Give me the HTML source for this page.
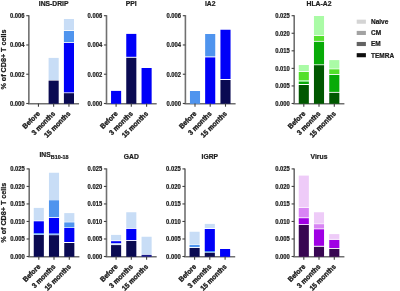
<!DOCTYPE html>
<html><head><meta charset="utf-8"><style>
html,body{margin:0;padding:0;background:#fff;}
body{width:400px;height:291px;overflow:hidden;}
svg{display:block;font-family:"Liberation Sans", sans-serif;will-change:transform;}
text{stroke:#1a1a1a;stroke-width:0.22px;paint-order:stroke;}
.xl{stroke-width:0.35px;}
</style></head><body>
<svg width="400" height="291" viewBox="0 0 400 291">
<rect width="400" height="291" fill="#fff"/>
<line x1="28.85" y1="15.2" x2="28.85" y2="104" stroke="#707070" stroke-width="1.6"/>
<line x1="27.95" y1="103.7" x2="79.05" y2="103.7" stroke="#707070" stroke-width="1.6"/>
<rect x="48.6" y="57.9" width="10.1" height="22.1" fill="#c8ddf6"/>
<rect x="48.6" y="80.6" width="10.1" height="23.2" fill="#0a0a52"/>
<rect x="63.9" y="19" width="10.1" height="11.2" fill="#c8ddf6"/>
<rect x="63.9" y="31" width="10.1" height="11.2" fill="#4f94ee"/>
<rect x="63.9" y="43" width="10.1" height="49.4" fill="#0000f8"/>
<rect x="63.9" y="93.2" width="10.1" height="10.6" fill="#0a0a52"/>
<line x1="26.25" y1="15.7" x2="28.85" y2="15.7" stroke="#404040" stroke-width="1.1"/>
<text font-size="6.8" font-weight="bold" text-anchor="end" fill="#1a1a1a" transform="translate(24.5 18.15) scale(0.86 1)">0.006</text>
<line x1="26.25" y1="44.97" x2="28.85" y2="44.97" stroke="#404040" stroke-width="1.1"/>
<text font-size="6.8" font-weight="bold" text-anchor="end" fill="#1a1a1a" transform="translate(24.5 47.42) scale(0.86 1)">0.004</text>
<line x1="26.25" y1="74.23" x2="28.85" y2="74.23" stroke="#404040" stroke-width="1.1"/>
<text font-size="6.8" font-weight="bold" text-anchor="end" fill="#1a1a1a" transform="translate(24.5 76.68) scale(0.86 1)">0.002</text>
<line x1="26.25" y1="103.5" x2="28.85" y2="103.5" stroke="#404040" stroke-width="1.1"/>
<text font-size="6.8" font-weight="bold" text-anchor="end" fill="#1a1a1a" transform="translate(24.5 105.95) scale(0.86 1)">0.000</text>
<line x1="38.45" y1="103.5" x2="38.45" y2="106.7" stroke="#404040" stroke-width="1.1"/>
<text class="xl" x="0" y="0" font-size="7.2" font-weight="bold" text-anchor="end" fill="#1a1a1a" transform="translate(40.45 114.2) rotate(-45) scale(0.94 1)">Before</text>
<line x1="53.65" y1="103.5" x2="53.65" y2="106.7" stroke="#404040" stroke-width="1.1"/>
<text class="xl" x="0" y="0" font-size="7.2" font-weight="bold" text-anchor="end" fill="#1a1a1a" transform="translate(55.65 114.2) rotate(-45) scale(0.94 1)">3 months</text>
<line x1="68.95" y1="103.5" x2="68.95" y2="106.7" stroke="#404040" stroke-width="1.1"/>
<text class="xl" x="0" y="0" font-size="7.2" font-weight="bold" text-anchor="end" fill="#1a1a1a" transform="translate(70.95 114.2) rotate(-45) scale(0.94 1)">15 months</text>
<text font-size="7.0" font-weight="bold" text-anchor="middle" fill="#1a1a1a" transform="translate(53.65 5.6) scale(0.97 1)">INS-DRIP</text>
<text font-size="6.3" font-weight="bold" text-anchor="middle" fill="#1a1a1a" transform="translate(5.6 59.6) rotate(-90) scale(1.14 1)">% of CD8+ T cells</text>
<line x1="106.5" y1="15.2" x2="106.5" y2="104" stroke="#707070" stroke-width="1.6"/>
<line x1="105.6" y1="103.7" x2="156.7" y2="103.7" stroke="#707070" stroke-width="1.6"/>
<rect x="111.05" y="90.9" width="10.1" height="12.9" fill="#0000f8"/>
<rect x="126.25" y="33.9" width="10.1" height="22.9" fill="#0000f8"/>
<rect x="126.25" y="57.8" width="10.1" height="46" fill="#0a0a52"/>
<rect x="141.55" y="68" width="10.1" height="35.8" fill="#0000f8"/>
<line x1="103.9" y1="15.7" x2="106.5" y2="15.7" stroke="#404040" stroke-width="1.1"/>
<text font-size="6.8" font-weight="bold" text-anchor="end" fill="#1a1a1a" transform="translate(102.15 18.15) scale(0.86 1)">0.006</text>
<line x1="103.9" y1="44.97" x2="106.5" y2="44.97" stroke="#404040" stroke-width="1.1"/>
<text font-size="6.8" font-weight="bold" text-anchor="end" fill="#1a1a1a" transform="translate(102.15 47.42) scale(0.86 1)">0.004</text>
<line x1="103.9" y1="74.23" x2="106.5" y2="74.23" stroke="#404040" stroke-width="1.1"/>
<text font-size="6.8" font-weight="bold" text-anchor="end" fill="#1a1a1a" transform="translate(102.15 76.68) scale(0.86 1)">0.002</text>
<line x1="103.9" y1="103.5" x2="106.5" y2="103.5" stroke="#404040" stroke-width="1.1"/>
<text font-size="6.8" font-weight="bold" text-anchor="end" fill="#1a1a1a" transform="translate(102.15 105.95) scale(0.86 1)">0.000</text>
<line x1="116.1" y1="103.5" x2="116.1" y2="106.7" stroke="#404040" stroke-width="1.1"/>
<text class="xl" x="0" y="0" font-size="7.2" font-weight="bold" text-anchor="end" fill="#1a1a1a" transform="translate(118.1 114.2) rotate(-45) scale(0.94 1)">Before</text>
<line x1="131.3" y1="103.5" x2="131.3" y2="106.7" stroke="#404040" stroke-width="1.1"/>
<text class="xl" x="0" y="0" font-size="7.2" font-weight="bold" text-anchor="end" fill="#1a1a1a" transform="translate(133.3 114.2) rotate(-45) scale(0.94 1)">3 months</text>
<line x1="146.6" y1="103.5" x2="146.6" y2="106.7" stroke="#404040" stroke-width="1.1"/>
<text class="xl" x="0" y="0" font-size="7.2" font-weight="bold" text-anchor="end" fill="#1a1a1a" transform="translate(148.6 114.2) rotate(-45) scale(0.94 1)">15 months</text>
<text font-size="7.0" font-weight="bold" text-anchor="middle" fill="#1a1a1a" transform="translate(131.3 5.6) scale(0.97 1)">PPI</text>
<line x1="185.4" y1="15.2" x2="185.4" y2="104" stroke="#707070" stroke-width="1.6"/>
<line x1="184.5" y1="103.7" x2="235.6" y2="103.7" stroke="#707070" stroke-width="1.6"/>
<rect x="189.95" y="91" width="10.1" height="12.8" fill="#4f94ee"/>
<rect x="205.15" y="34" width="10.1" height="22.4" fill="#4f94ee"/>
<rect x="205.15" y="57.4" width="10.1" height="46.4" fill="#0000f8"/>
<rect x="220.45" y="29.75" width="10.1" height="49.25" fill="#0000f8"/>
<rect x="220.45" y="80" width="10.1" height="23.8" fill="#0a0a52"/>
<line x1="182.8" y1="15.7" x2="185.4" y2="15.7" stroke="#404040" stroke-width="1.1"/>
<text font-size="6.8" font-weight="bold" text-anchor="end" fill="#1a1a1a" transform="translate(181.05 18.15) scale(0.86 1)">0.006</text>
<line x1="182.8" y1="44.97" x2="185.4" y2="44.97" stroke="#404040" stroke-width="1.1"/>
<text font-size="6.8" font-weight="bold" text-anchor="end" fill="#1a1a1a" transform="translate(181.05 47.42) scale(0.86 1)">0.004</text>
<line x1="182.8" y1="74.23" x2="185.4" y2="74.23" stroke="#404040" stroke-width="1.1"/>
<text font-size="6.8" font-weight="bold" text-anchor="end" fill="#1a1a1a" transform="translate(181.05 76.68) scale(0.86 1)">0.002</text>
<line x1="182.8" y1="103.5" x2="185.4" y2="103.5" stroke="#404040" stroke-width="1.1"/>
<text font-size="6.8" font-weight="bold" text-anchor="end" fill="#1a1a1a" transform="translate(181.05 105.95) scale(0.86 1)">0.000</text>
<line x1="195" y1="103.5" x2="195" y2="106.7" stroke="#404040" stroke-width="1.1"/>
<text class="xl" x="0" y="0" font-size="7.2" font-weight="bold" text-anchor="end" fill="#1a1a1a" transform="translate(197 114.2) rotate(-45) scale(0.94 1)">Before</text>
<line x1="210.2" y1="103.5" x2="210.2" y2="106.7" stroke="#404040" stroke-width="1.1"/>
<text class="xl" x="0" y="0" font-size="7.2" font-weight="bold" text-anchor="end" fill="#1a1a1a" transform="translate(212.2 114.2) rotate(-45) scale(0.94 1)">3 months</text>
<line x1="225.5" y1="103.5" x2="225.5" y2="106.7" stroke="#404040" stroke-width="1.1"/>
<text class="xl" x="0" y="0" font-size="7.2" font-weight="bold" text-anchor="end" fill="#1a1a1a" transform="translate(227.5 114.2) rotate(-45) scale(0.94 1)">15 months</text>
<text font-size="7.0" font-weight="bold" text-anchor="middle" fill="#1a1a1a" transform="translate(210.2 5.6) scale(0.97 1)">IA2</text>
<line x1="294.2" y1="15.2" x2="294.2" y2="104" stroke="#707070" stroke-width="1.6"/>
<line x1="293.3" y1="103.7" x2="344.4" y2="103.7" stroke="#707070" stroke-width="1.6"/>
<rect x="298.75" y="65" width="10.1" height="6.2" fill="#aafba6"/>
<rect x="298.75" y="72" width="10.1" height="8" fill="#52e02a"/>
<rect x="298.75" y="80" width="10.1" height="1.4" fill="#aafba6"/>
<rect x="298.75" y="81.6" width="10.1" height="2.4" fill="#08ab08"/>
<rect x="298.75" y="85" width="10.1" height="18.8" fill="#005800"/>
<rect x="313.95" y="16" width="10.1" height="19" fill="#aafba6"/>
<rect x="313.95" y="35.9" width="10.1" height="5" fill="#52e02a"/>
<rect x="313.95" y="41.8" width="10.1" height="22.6" fill="#08ab08"/>
<rect x="313.95" y="65.2" width="10.1" height="38.6" fill="#005800"/>
<rect x="329.25" y="60.1" width="10.1" height="8.5" fill="#aafba6"/>
<rect x="329.25" y="69.3" width="10.1" height="4.7" fill="#52e02a"/>
<rect x="329.25" y="74.9" width="10.1" height="17" fill="#08ab08"/>
<rect x="329.25" y="92.8" width="10.1" height="11" fill="#005800"/>
<line x1="291.6" y1="15.7" x2="294.2" y2="15.7" stroke="#404040" stroke-width="1.1"/>
<text font-size="6.8" font-weight="bold" text-anchor="end" fill="#1a1a1a" transform="translate(289.85 18.15) scale(0.86 1)">0.025</text>
<line x1="291.6" y1="33.26" x2="294.2" y2="33.26" stroke="#404040" stroke-width="1.1"/>
<text font-size="6.8" font-weight="bold" text-anchor="end" fill="#1a1a1a" transform="translate(289.85 35.71) scale(0.86 1)">0.020</text>
<line x1="291.6" y1="50.82" x2="294.2" y2="50.82" stroke="#404040" stroke-width="1.1"/>
<text font-size="6.8" font-weight="bold" text-anchor="end" fill="#1a1a1a" transform="translate(289.85 53.27) scale(0.86 1)">0.015</text>
<line x1="291.6" y1="68.38" x2="294.2" y2="68.38" stroke="#404040" stroke-width="1.1"/>
<text font-size="6.8" font-weight="bold" text-anchor="end" fill="#1a1a1a" transform="translate(289.85 70.83) scale(0.86 1)">0.010</text>
<line x1="291.6" y1="85.94" x2="294.2" y2="85.94" stroke="#404040" stroke-width="1.1"/>
<text font-size="6.8" font-weight="bold" text-anchor="end" fill="#1a1a1a" transform="translate(289.85 88.39) scale(0.86 1)">0.005</text>
<line x1="291.6" y1="103.5" x2="294.2" y2="103.5" stroke="#404040" stroke-width="1.1"/>
<text font-size="6.8" font-weight="bold" text-anchor="end" fill="#1a1a1a" transform="translate(289.85 105.95) scale(0.86 1)">0.000</text>
<line x1="303.8" y1="103.5" x2="303.8" y2="106.7" stroke="#404040" stroke-width="1.1"/>
<text class="xl" x="0" y="0" font-size="7.2" font-weight="bold" text-anchor="end" fill="#1a1a1a" transform="translate(305.8 114.2) rotate(-45) scale(0.94 1)">Before</text>
<line x1="319" y1="103.5" x2="319" y2="106.7" stroke="#404040" stroke-width="1.1"/>
<text class="xl" x="0" y="0" font-size="7.2" font-weight="bold" text-anchor="end" fill="#1a1a1a" transform="translate(321 114.2) rotate(-45) scale(0.94 1)">3 months</text>
<line x1="334.3" y1="103.5" x2="334.3" y2="106.7" stroke="#404040" stroke-width="1.1"/>
<text class="xl" x="0" y="0" font-size="7.2" font-weight="bold" text-anchor="end" fill="#1a1a1a" transform="translate(336.3 114.2) rotate(-45) scale(0.94 1)">15 months</text>
<text font-size="7.0" font-weight="bold" text-anchor="middle" fill="#1a1a1a" transform="translate(319 5.6) scale(0.97 1)">HLA-A2</text>
<line x1="29.2" y1="168.4" x2="29.2" y2="257" stroke="#707070" stroke-width="1.6"/>
<line x1="28.3" y1="256.7" x2="79.4" y2="256.7" stroke="#707070" stroke-width="1.6"/>
<rect x="33.75" y="207.9" width="10.1" height="12.6" fill="#c8ddf6"/>
<rect x="33.75" y="221.3" width="10.1" height="11.9" fill="#0000f8"/>
<rect x="33.75" y="233.2" width="10.1" height="1.3" fill="#4f94ee"/>
<rect x="33.75" y="235" width="10.1" height="21.8" fill="#0a0a52"/>
<rect x="48.95" y="172.75" width="10.1" height="27.55" fill="#c8ddf6"/>
<rect x="48.95" y="200.3" width="10.1" height="16.9" fill="#4f94ee"/>
<rect x="48.95" y="218" width="10.1" height="15.6" fill="#0000f8"/>
<rect x="48.95" y="233.6" width="10.1" height="1" fill="#4f94ee"/>
<rect x="48.95" y="235.2" width="10.1" height="21.6" fill="#0a0a52"/>
<rect x="64.25" y="213.1" width="10.1" height="8.7" fill="#c8ddf6"/>
<rect x="64.25" y="222.4" width="10.1" height="5" fill="#4f94ee"/>
<rect x="64.25" y="228" width="10.1" height="14" fill="#0000f8"/>
<rect x="64.25" y="243" width="10.1" height="13.8" fill="#0a0a52"/>
<line x1="26.6" y1="168.9" x2="29.2" y2="168.9" stroke="#404040" stroke-width="1.1"/>
<text font-size="6.8" font-weight="bold" text-anchor="end" fill="#1a1a1a" transform="translate(24.85 171.35) scale(0.86 1)">0.025</text>
<line x1="26.6" y1="186.42" x2="29.2" y2="186.42" stroke="#404040" stroke-width="1.1"/>
<text font-size="6.8" font-weight="bold" text-anchor="end" fill="#1a1a1a" transform="translate(24.85 188.87) scale(0.86 1)">0.020</text>
<line x1="26.6" y1="203.94" x2="29.2" y2="203.94" stroke="#404040" stroke-width="1.1"/>
<text font-size="6.8" font-weight="bold" text-anchor="end" fill="#1a1a1a" transform="translate(24.85 206.39) scale(0.86 1)">0.015</text>
<line x1="26.6" y1="221.46" x2="29.2" y2="221.46" stroke="#404040" stroke-width="1.1"/>
<text font-size="6.8" font-weight="bold" text-anchor="end" fill="#1a1a1a" transform="translate(24.85 223.91) scale(0.86 1)">0.010</text>
<line x1="26.6" y1="238.98" x2="29.2" y2="238.98" stroke="#404040" stroke-width="1.1"/>
<text font-size="6.8" font-weight="bold" text-anchor="end" fill="#1a1a1a" transform="translate(24.85 241.43) scale(0.86 1)">0.005</text>
<line x1="26.6" y1="256.5" x2="29.2" y2="256.5" stroke="#404040" stroke-width="1.1"/>
<text font-size="6.8" font-weight="bold" text-anchor="end" fill="#1a1a1a" transform="translate(24.85 258.95) scale(0.86 1)">0.000</text>
<line x1="38.8" y1="256.5" x2="38.8" y2="259.7" stroke="#404040" stroke-width="1.1"/>
<text class="xl" x="0" y="0" font-size="7.2" font-weight="bold" text-anchor="end" fill="#1a1a1a" transform="translate(40.8 267.2) rotate(-45) scale(0.94 1)">Before</text>
<line x1="54" y1="256.5" x2="54" y2="259.7" stroke="#404040" stroke-width="1.1"/>
<text class="xl" x="0" y="0" font-size="7.2" font-weight="bold" text-anchor="end" fill="#1a1a1a" transform="translate(56 267.2) rotate(-45) scale(0.94 1)">3 months</text>
<line x1="69.3" y1="256.5" x2="69.3" y2="259.7" stroke="#404040" stroke-width="1.1"/>
<text class="xl" x="0" y="0" font-size="7.2" font-weight="bold" text-anchor="end" fill="#1a1a1a" transform="translate(71.3 267.2) rotate(-45) scale(0.94 1)">15 months</text>
<text font-size="7.0" font-weight="bold" text-anchor="middle" fill="#1a1a1a" transform="translate(54 157.1) scale(0.97 1)">INS<tspan font-size="5.6" dy="1.9">B10-18</tspan></text>
<text font-size="6.3" font-weight="bold" text-anchor="middle" fill="#1a1a1a" transform="translate(5.6 212.7) rotate(-90) scale(1.14 1)">% of CD8+ T cells</text>
<line x1="106.5" y1="168.4" x2="106.5" y2="257" stroke="#707070" stroke-width="1.6"/>
<line x1="105.6" y1="256.7" x2="156.7" y2="256.7" stroke="#707070" stroke-width="1.6"/>
<rect x="111.05" y="234.9" width="10.1" height="5.5" fill="#c8ddf6"/>
<rect x="111.05" y="241.2" width="10.1" height="2.2" fill="#0000f8"/>
<rect x="111.05" y="243.4" width="10.1" height="1.2" fill="#c8ddf6"/>
<rect x="111.05" y="245.1" width="10.1" height="11.7" fill="#0a0a52"/>
<rect x="126.25" y="212.25" width="10.1" height="15.75" fill="#c8ddf6"/>
<rect x="126.25" y="228.9" width="10.1" height="11.2" fill="#0000f8"/>
<rect x="126.25" y="241" width="10.1" height="15.8" fill="#0a0a52"/>
<rect x="141.55" y="236.75" width="10.1" height="17.85" fill="#c8ddf6"/>
<rect x="141.55" y="254.9" width="10.1" height="1.9" fill="#1c1c8c"/>
<line x1="103.9" y1="168.9" x2="106.5" y2="168.9" stroke="#404040" stroke-width="1.1"/>
<text font-size="6.8" font-weight="bold" text-anchor="end" fill="#1a1a1a" transform="translate(102.15 171.35) scale(0.86 1)">0.025</text>
<line x1="103.9" y1="186.42" x2="106.5" y2="186.42" stroke="#404040" stroke-width="1.1"/>
<text font-size="6.8" font-weight="bold" text-anchor="end" fill="#1a1a1a" transform="translate(102.15 188.87) scale(0.86 1)">0.020</text>
<line x1="103.9" y1="203.94" x2="106.5" y2="203.94" stroke="#404040" stroke-width="1.1"/>
<text font-size="6.8" font-weight="bold" text-anchor="end" fill="#1a1a1a" transform="translate(102.15 206.39) scale(0.86 1)">0.015</text>
<line x1="103.9" y1="221.46" x2="106.5" y2="221.46" stroke="#404040" stroke-width="1.1"/>
<text font-size="6.8" font-weight="bold" text-anchor="end" fill="#1a1a1a" transform="translate(102.15 223.91) scale(0.86 1)">0.010</text>
<line x1="103.9" y1="238.98" x2="106.5" y2="238.98" stroke="#404040" stroke-width="1.1"/>
<text font-size="6.8" font-weight="bold" text-anchor="end" fill="#1a1a1a" transform="translate(102.15 241.43) scale(0.86 1)">0.005</text>
<line x1="103.9" y1="256.5" x2="106.5" y2="256.5" stroke="#404040" stroke-width="1.1"/>
<text font-size="6.8" font-weight="bold" text-anchor="end" fill="#1a1a1a" transform="translate(102.15 258.95) scale(0.86 1)">0.000</text>
<line x1="116.1" y1="256.5" x2="116.1" y2="259.7" stroke="#404040" stroke-width="1.1"/>
<text class="xl" x="0" y="0" font-size="7.2" font-weight="bold" text-anchor="end" fill="#1a1a1a" transform="translate(118.1 267.2) rotate(-45) scale(0.94 1)">Before</text>
<line x1="131.3" y1="256.5" x2="131.3" y2="259.7" stroke="#404040" stroke-width="1.1"/>
<text class="xl" x="0" y="0" font-size="7.2" font-weight="bold" text-anchor="end" fill="#1a1a1a" transform="translate(133.3 267.2) rotate(-45) scale(0.94 1)">3 months</text>
<line x1="146.6" y1="256.5" x2="146.6" y2="259.7" stroke="#404040" stroke-width="1.1"/>
<text class="xl" x="0" y="0" font-size="7.2" font-weight="bold" text-anchor="end" fill="#1a1a1a" transform="translate(148.6 267.2) rotate(-45) scale(0.94 1)">15 months</text>
<text font-size="7.0" font-weight="bold" text-anchor="middle" fill="#1a1a1a" transform="translate(131.3 158.8) scale(0.97 1)">GAD</text>
<line x1="185" y1="168.4" x2="185" y2="257" stroke="#707070" stroke-width="1.6"/>
<line x1="184.1" y1="256.7" x2="235.2" y2="256.7" stroke="#707070" stroke-width="1.6"/>
<rect x="189.55" y="231.75" width="10.1" height="12.55" fill="#c8ddf6"/>
<rect x="189.55" y="244.9" width="10.1" height="2.2" fill="#4f94ee"/>
<rect x="189.55" y="248" width="10.1" height="8.8" fill="#0a0a52"/>
<rect x="204.75" y="223.9" width="10.1" height="4.2" fill="#c8ddf6"/>
<rect x="204.75" y="229" width="10.1" height="22" fill="#0000f8"/>
<rect x="204.75" y="251" width="10.1" height="1.4" fill="#4f94ee"/>
<rect x="204.75" y="252.8" width="10.1" height="4" fill="#0a0a52"/>
<rect x="220.05" y="249" width="10.1" height="7.8" fill="#0000f8"/>
<line x1="182.4" y1="168.9" x2="185" y2="168.9" stroke="#404040" stroke-width="1.1"/>
<text font-size="6.8" font-weight="bold" text-anchor="end" fill="#1a1a1a" transform="translate(180.65 171.35) scale(0.86 1)">0.025</text>
<line x1="182.4" y1="186.42" x2="185" y2="186.42" stroke="#404040" stroke-width="1.1"/>
<text font-size="6.8" font-weight="bold" text-anchor="end" fill="#1a1a1a" transform="translate(180.65 188.87) scale(0.86 1)">0.020</text>
<line x1="182.4" y1="203.94" x2="185" y2="203.94" stroke="#404040" stroke-width="1.1"/>
<text font-size="6.8" font-weight="bold" text-anchor="end" fill="#1a1a1a" transform="translate(180.65 206.39) scale(0.86 1)">0.015</text>
<line x1="182.4" y1="221.46" x2="185" y2="221.46" stroke="#404040" stroke-width="1.1"/>
<text font-size="6.8" font-weight="bold" text-anchor="end" fill="#1a1a1a" transform="translate(180.65 223.91) scale(0.86 1)">0.010</text>
<line x1="182.4" y1="238.98" x2="185" y2="238.98" stroke="#404040" stroke-width="1.1"/>
<text font-size="6.8" font-weight="bold" text-anchor="end" fill="#1a1a1a" transform="translate(180.65 241.43) scale(0.86 1)">0.005</text>
<line x1="182.4" y1="256.5" x2="185" y2="256.5" stroke="#404040" stroke-width="1.1"/>
<text font-size="6.8" font-weight="bold" text-anchor="end" fill="#1a1a1a" transform="translate(180.65 258.95) scale(0.86 1)">0.000</text>
<line x1="194.6" y1="256.5" x2="194.6" y2="259.7" stroke="#404040" stroke-width="1.1"/>
<text class="xl" x="0" y="0" font-size="7.2" font-weight="bold" text-anchor="end" fill="#1a1a1a" transform="translate(196.6 267.2) rotate(-45) scale(0.94 1)">Before</text>
<line x1="209.8" y1="256.5" x2="209.8" y2="259.7" stroke="#404040" stroke-width="1.1"/>
<text class="xl" x="0" y="0" font-size="7.2" font-weight="bold" text-anchor="end" fill="#1a1a1a" transform="translate(211.8 267.2) rotate(-45) scale(0.94 1)">3 months</text>
<line x1="225.1" y1="256.5" x2="225.1" y2="259.7" stroke="#404040" stroke-width="1.1"/>
<text class="xl" x="0" y="0" font-size="7.2" font-weight="bold" text-anchor="end" fill="#1a1a1a" transform="translate(227.1 267.2) rotate(-45) scale(0.94 1)">15 months</text>
<text font-size="7.0" font-weight="bold" text-anchor="middle" fill="#1a1a1a" transform="translate(209.8 158.8) scale(0.97 1)">IGRP</text>
<line x1="294.2" y1="168.4" x2="294.2" y2="257" stroke="#707070" stroke-width="1.6"/>
<line x1="293.3" y1="256.7" x2="344.4" y2="256.7" stroke="#707070" stroke-width="1.6"/>
<rect x="298.75" y="175.6" width="10.1" height="31.5" fill="#eecbf8"/>
<rect x="298.75" y="207.9" width="10.1" height="9.5" fill="#d884f4"/>
<rect x="298.75" y="218.2" width="10.1" height="6" fill="#a000e4"/>
<rect x="298.75" y="225" width="10.1" height="31.8" fill="#380652"/>
<rect x="313.95" y="212.25" width="10.1" height="11.35" fill="#eecbf8"/>
<rect x="313.95" y="224.2" width="10.1" height="4.3" fill="#d884f4"/>
<rect x="313.95" y="229.3" width="10.1" height="16.5" fill="#a000e4"/>
<rect x="313.95" y="246.8" width="10.1" height="10" fill="#380652"/>
<rect x="329.25" y="234.1" width="10.1" height="4.8" fill="#eecbf8"/>
<rect x="329.25" y="239.9" width="10.1" height="8.1" fill="#a000e4"/>
<rect x="329.25" y="248.9" width="10.1" height="7.9" fill="#380652"/>
<line x1="291.6" y1="168.9" x2="294.2" y2="168.9" stroke="#404040" stroke-width="1.1"/>
<text font-size="6.8" font-weight="bold" text-anchor="end" fill="#1a1a1a" transform="translate(289.85 171.35) scale(0.86 1)">0.025</text>
<line x1="291.6" y1="186.42" x2="294.2" y2="186.42" stroke="#404040" stroke-width="1.1"/>
<text font-size="6.8" font-weight="bold" text-anchor="end" fill="#1a1a1a" transform="translate(289.85 188.87) scale(0.86 1)">0.020</text>
<line x1="291.6" y1="203.94" x2="294.2" y2="203.94" stroke="#404040" stroke-width="1.1"/>
<text font-size="6.8" font-weight="bold" text-anchor="end" fill="#1a1a1a" transform="translate(289.85 206.39) scale(0.86 1)">0.015</text>
<line x1="291.6" y1="221.46" x2="294.2" y2="221.46" stroke="#404040" stroke-width="1.1"/>
<text font-size="6.8" font-weight="bold" text-anchor="end" fill="#1a1a1a" transform="translate(289.85 223.91) scale(0.86 1)">0.010</text>
<line x1="291.6" y1="238.98" x2="294.2" y2="238.98" stroke="#404040" stroke-width="1.1"/>
<text font-size="6.8" font-weight="bold" text-anchor="end" fill="#1a1a1a" transform="translate(289.85 241.43) scale(0.86 1)">0.005</text>
<line x1="291.6" y1="256.5" x2="294.2" y2="256.5" stroke="#404040" stroke-width="1.1"/>
<text font-size="6.8" font-weight="bold" text-anchor="end" fill="#1a1a1a" transform="translate(289.85 258.95) scale(0.86 1)">0.000</text>
<line x1="303.8" y1="256.5" x2="303.8" y2="259.7" stroke="#404040" stroke-width="1.1"/>
<text class="xl" x="0" y="0" font-size="7.2" font-weight="bold" text-anchor="end" fill="#1a1a1a" transform="translate(305.8 267.2) rotate(-45) scale(0.94 1)">Before</text>
<line x1="319" y1="256.5" x2="319" y2="259.7" stroke="#404040" stroke-width="1.1"/>
<text class="xl" x="0" y="0" font-size="7.2" font-weight="bold" text-anchor="end" fill="#1a1a1a" transform="translate(321 267.2) rotate(-45) scale(0.94 1)">3 months</text>
<line x1="334.3" y1="256.5" x2="334.3" y2="259.7" stroke="#404040" stroke-width="1.1"/>
<text class="xl" x="0" y="0" font-size="7.2" font-weight="bold" text-anchor="end" fill="#1a1a1a" transform="translate(336.3 267.2) rotate(-45) scale(0.94 1)">15 months</text>
<text font-size="7.0" font-weight="bold" text-anchor="middle" fill="#1a1a1a" transform="translate(319 158.8) scale(0.97 1)">Virus</text>
<rect x="356.7" y="19.65" width="9.2" height="4.1" fill="#d4d4d4"/>
<text x="371" y="24.1" font-size="6.5" font-weight="bold" fill="#1a1a1a">Naive</text>
<rect x="356.7" y="30.9" width="9.2" height="4.1" fill="#a2a2a2"/>
<text x="371" y="35.35" font-size="6.5" font-weight="bold" fill="#1a1a1a">CM</text>
<rect x="356.7" y="41.95" width="9.2" height="4.1" fill="#626262"/>
<text x="371" y="46.4" font-size="6.5" font-weight="bold" fill="#1a1a1a">EM</text>
<rect x="356.7" y="53.15" width="9.2" height="4.1" fill="#0e0e0e"/>
<text x="371" y="57.6" font-size="6.5" font-weight="bold" fill="#1a1a1a">TEMRA</text>
</svg>
</body></html>
